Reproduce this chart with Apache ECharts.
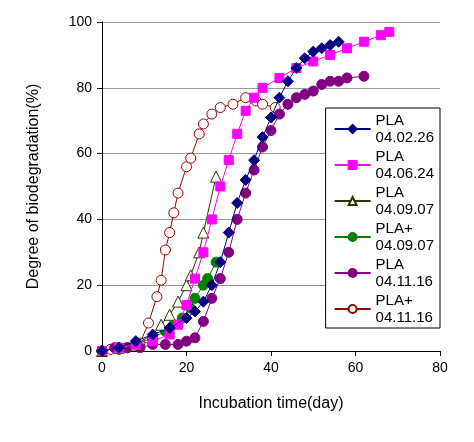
<!DOCTYPE html>
<html><head><meta charset="utf-8">
<script src="https://cdn.jsdelivr.net/npm/echarts@6/dist/echarts.min.js"></script>
<style>body{margin:0;background:#fff}#c{width:474px;height:442px}</style>
</head><body><div id="c"></div>
<script>
var names = ['PLA\n04.02.26', 'PLA\n04.06.24', 'PLA\n04.09.07', 'PLA+\n04.09.07', 'PLA\n04.11.16', 'PLA+\n04.11.16'];
var xTicks = [0, 20, 40, 60, 80];
var yTicks = [0, 20, 40, 60, 80, 100];

var pla0226 = [[0,0],[4,1],[8,3],[12,5],[16,7],[20,10],[22,12],[24,15],[26,20],[28,27],[30,36],[32,45],[34,52],[36,58],[38,65],[40,71],[42,77],[44,82],[46,86],[48,89],[50,91],[52,92],[54,93],[56,94]];
var pla0624 = [[0,0],[4,1],[8,2],[12,3],[16,5],[18,8],[20,14],[22,22],[24,30],[26,40],[28,50],[30,58],[32,66],[34,73],[36,77],[38,80],[42,83],[46,86],[50,88],[54,90],[58,92],[62,94],[66,96],[68,97]];
var pla0907 = [[0,0],[4,1],[8,2],[12,5],[14,8],[16,11],[18,15],[20,20],[21,23],[23,30],[24,36],[27,53]];
var plaP0907 = [[0,0],[4,1],[8,2],[12,4],[15,6],[17,8],[19,10],[21,13],[22,16],[24,20],[25,22],[27,27]];
var pla1116 = [[0,0],[3,1],[6,1],[9,1],[12,2],[15,2],[18,2],[20,3],[22,4],[24,9],[26,16],[28,22],[30,30],[32,40],[34,48],[36,55],[38,62],[40,67],[42,72],[44,75],[46,77],[48,78],[50,79],[52,81],[54,82],[56,82],[58,83],[62,83.5]];
var plaP1116 = [[0,0],[2,0.5],[4,0.5],[6,1],[8,2],[9,2.4],[11,8.5],[13,16.5],[14,21.5],[15,30.7],[16,36],[17,42],[18,48],[20,56],[21,58.6],[23,66],[24,69],[26,72],[28,74],[31,75],[34,77],[36.5,76],[38,75],[41,74]];

var allData = [pla0226, pla0624, pla0907, plaP0907, pla1116, plaP1116];
var styles = [
  {sym:'diamond', size:11, color:'#000080', fill:'#000080'},
  {sym:'rect', size:9, color:'#ff00ff', fill:'#ff00ff'},
  {sym:'triangle', size:11, color:'#333300', fill:'#ffffff'},
  {sym:'circle', size:10, color:'#008000', fill:'#008000'},
  {sym:'circle', size:10, color:'#800080', fill:'#800080'},
  {sym:'circle', size:10, color:'#990000', fill:'#ffffff'}
];

var series = names.map(function(n, i){
  var s = styles[i];
  return {
    name: n, type: 'line', data: allData[i],
    symbol: s.sym, symbolSize: s.size,
    lineStyle: {color: s.color, width: 1},
    itemStyle: {color: s.fill, borderColor: s.color, borderWidth: 1},
    z: 10 - i
  };
});

var font = 'Liberation Sans, Arial, sans-serif';
var chart = echarts.init(document.getElementById('c'));
chart.setOption({
  animation: false,
  grid: {left: 102, right: 34, top: 22, bottom: 91},
  xAxis: {
    type: 'value', min: 0, max: 80, interval: 20,
    name: 'Incubation time(day)', nameLocation: 'middle', nameGap: 45,
    nameTextStyle: {fontSize: 16, color: '#000', fontFamily: font},
    axisLine: {lineStyle: {color: '#000'}},
    axisTick: {show: true, inside: false, length: 5, lineStyle: {color: '#000'}},
    axisLabel: {fontSize: 14, color: '#000', fontFamily: font, margin: 10},
    splitLine: {show: false}
  },
  yAxis: {
    type: 'value', min: 0, max: 100, interval: 20,
    name: 'Degree of biodegradation(%)', nameLocation: 'middle', nameGap: 60,
    nameTextStyle: {fontSize: 16, color: '#000', fontFamily: font},
    axisLine: {show: true, lineStyle: {color: '#000'}},
    axisTick: {show: true, length: 5, lineStyle: {color: '#000'}},
    axisLabel: {fontSize: 14, color: '#000', fontFamily: font, margin: 10},
    splitLine: {lineStyle: {color: '#999'}}
  },
  legend: {
    orient: 'vertical', right: 34, top: 108,
    backgroundColor: '#fff', borderColor: '#000', borderWidth: 1,
    padding: [4, 6, 2, 8], itemGap: 2, itemWidth: 36, itemHeight: 10,
    textStyle: {fontSize: 15, lineHeight: 17, color: '#000', fontFamily: font},
    data: names
  },
  series: series
});
</script></body></html>
